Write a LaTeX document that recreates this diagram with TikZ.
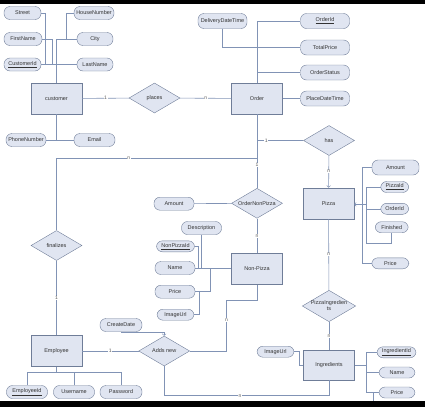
\documentclass[tikz,border=0pt]{standalone}
\usepackage{fontspec}
\setmainfont{Liberation Sans}
\usetikzlibrary{shapes.geometric}

\definecolor{boxfill}{HTML}{E0E5F1}
\definecolor{boxline}{HTML}{6F7D98}
\definecolor{linkcol}{HTML}{8193B5}
\definecolor{txtcol}{HTML}{333333}

\begin{document}
\begin{tikzpicture}[%
  x = 1pt, y = -1pt,
  font = \fontsize{5.5}{6}\selectfont, text = txtcol,
  entity/.style = {rectangle, draw = boxline, fill = boxfill, minimum width = 51pt, minimum height = 31pt, inner sep = 0pt},
  attr/.style = {rectangle, rounded corners = 6pt, draw = boxline, fill = boxfill, minimum height = 13pt, inner sep = 0.5pt},
  rel/.style = {diamond, aspect = 1.7, draw = boxline, fill = boxfill, minimum width = 51pt, minimum height = 30pt, inner sep = 0pt},
  link/.style = {draw = linkcol, line width = 0.6pt},
  card/.style = {fill = white, inner sep = 0.5pt, font = \fontsize{5}{5}\selectfont, text = txtcol!80}]
  \useasboundingbox (0, 0) rectangle (425, 407);
  \fill[black] (0, 0) rectangle (425, 4);
  \fill[black] (0, 401) rectangle (425, 407);

  % customer
  \node[entity] (cust) at (56.5, 98.5) {customer};
  \node[attr, minimum width = 37pt] (street) at (22.5, 13) {Street};
  \node[attr, minimum width = 40pt] (housenr) at (94, 13) {HouseNumber};
  \node[attr, minimum width = 38pt] (firstname) at (23, 39) {FirstName};
  \node[attr, minimum width = 36pt] (city) at (95, 39) {City};
  \node[attr, minimum width = 37pt] (custid) at (22.5, 64.5) {\underline{CustomerId}};
  \node[attr, minimum width = 36pt] (lastname) at (95, 64.5) {LastName};
  \node[attr, minimum width = 40pt] (phone) at (26, 140) {PhoneNumber};
  \node[attr, minimum width = 41pt] (email) at (94.5, 140) {Email};

  % order
  \node[entity] (order) at (257, 98.5) {Order};
  \node[attr, minimum width = 49pt, minimum height = 15pt] (delivery) at (222.5, 21) {DeliveryDateTime};
  \node[attr, minimum width = 49pt, minimum height = 15pt] (orderid) at (325, 21) {\underline{OrderId}};
  \node[attr, minimum width = 49pt, minimum height = 15pt] (total) at (325, 47.5) {TotalPrice};
  \node[attr, minimum width = 49pt, minimum height = 15pt] (status) at (325, 72.5) {OrderStatus};
  \node[attr, minimum width = 49pt, minimum height = 15pt] (placed) at (325, 98.5) {PlaceDateTime};

  % relations
  \node[rel] (places) at (154.5, 98) {places};
  \node[rel] (has) at (329, 140.5) {has};
  \node[rel] (finalizes) at (56.5, 245.5) {finalizes};
  \node[rel] (onp) at (257, 203.3) {OrderNonPizza};
  \node[rel, align = center] (pizzaing) at (329, 306) {PizzaIngredien\\ts};
  \node[rel] (addsnew) at (164.2, 351) {Adds new};

  % pizza
  \node[entity] (pizza) at (328.5, 203.3) {Pizza};
  \node[attr, minimum width = 47pt, minimum height = 15pt] (pamount) at (395.5, 167.5) {Amount};
  \node[attr, minimum width = 28pt, minimum height = 11pt] (pizzaid) at (394.7, 187) {\underline{PizzaId}};
  \node[attr, minimum width = 28pt, minimum height = 11pt] (porderid) at (394.7, 208.8) {OrderId};
  \node[attr, minimum width = 33pt, minimum height = 11pt] (finished) at (391.7, 227.2) {Finished};
  \node[attr, minimum width = 37pt, minimum height = 11pt] (pprice) at (390.3, 263.3) {Price};

  % non-pizza
  \node[entity] (nonpizza) at (257, 269) {Non-Pizza};
  \node[attr, minimum width = 40pt] (oamount) at (174, 203.7) {Amount};
  \node[attr, minimum width = 40pt] (descr) at (201.5, 228) {Description};
  \node[attr, minimum width = 38pt, minimum height = 11pt] (npid) at (175.5, 246.3) {\underline{NonPizzaId}};
  \node[attr, minimum width = 40pt] (npname) at (175, 268) {Name};
  \node[attr, minimum width = 40pt] (npprice) at (175, 291.7) {Price};
  \node[attr, minimum width = 37pt, minimum height = 11pt] (npimage) at (175.5, 314.7) {ImageUrl};

  % ingredients
  \node[entity, minimum height = 30pt] (ingr) at (329, 365) {Ingredients};
  \node[attr, minimum width = 37pt, minimum height = 11pt] (ingimage) at (275.5, 351.7) {ImageUrl};
  \node[attr, minimum width = 39pt, minimum height = 11pt] (ingid) at (396.5, 352.3) {\underline{IngredientId}};
  \node[attr, minimum width = 36pt, minimum height = 11pt] (ingname) at (397, 372.5) {Name};
  \node[attr, minimum width = 36pt, minimum height = 11pt] (ingprice) at (397, 392.5) {Price};

  % employee
  \node[entity] (employee) at (56.5, 351) {Employee};
  \node[attr, minimum width = 42pt] (created) at (121, 325) {CreateDate};
  \node[attr, minimum width = 41pt] (empid) at (27, 392) {\underline{EmployeeId}};
  \node[attr, minimum width = 41pt] (username) at (74, 392) {Username};
  \node[attr, minimum width = 42pt] (password) at (121, 392) {Password};

  \coordinate (ordbus) at (257, 158.3);
  \coordinate (npbend) at (226.5, 300.7);
  \coordinate (ingbend) at (329, 395.7);
  \coordinate (pjoin) at (366, 204.3);
  \coordinate (pin) at (366, 243.3);
  \coordinate (pout) at (362.3, 204.3);
  \coordinate (ibus) at (366.7, 365);
  \coordinate (iend) at (373.3, 401);
  \coordinate (ebus) at (56.5, 372.7);

  % customer attributes
  \draw[link] (street.east) -- ++(4.3, 0) |- (custid.east);
  \draw[link] (firstname.east) -- ++(10, 0) |- (custid.east);
  \draw[link] (custid.east) -- (lastname.west);
  \draw[link] (housenr.west) -- ++(-8, 0) |- (city.west);
  \draw[link] (cust.north) |- (city.west);
  \draw[link] (cust.south) |- (phone.east);
  \draw[link] (phone.east) -- (email.west);

  % order attributes
  \draw[link] (order.north) |- (orderid.west);
  \draw[link] (delivery.south) |- (total.west);
  \draw[link] (order.north) |- (status.west);
  \draw[link] (order.east) -- (placed.west);

  % relations
  \draw[link] (cust) -- node[card] {1} (places);
  \draw[link] (places) -- node[card] {n} (order);
  \draw[link] (order.south) |- node[card, pos = 0.6] {1} (has.west);
  \draw[link, ->] (has) -- node[card] {n} (pizza);
  \draw[link] (order.south) -- node[card, pos = 0.69] {1} (onp.north);
  \draw[link] (finalizes.north) |- node[card, pos = 0.68] {n} (ordbus);
  \draw[link] (employee) -- node[card] {1} (finalizes);
  \draw[link] (onp) -- (oamount);
  \draw[link] (onp) -- node[card] {n} (nonpizza);
  \draw[link] (pizza) -- node[card] {n} (pizzaing);
  \draw[link] (pizzaing) -- node[card] {n} (ingr);
  \draw[link] (employee) -- node[card] {1} (addsnew);
  \draw[link] (addsnew.east) -| node[card, pos = 0.81] {n} (npbend) -| (nonpizza.south);
  \draw[link] (addsnew.south) |- node[card, pos = 0.73] {n} (ingbend) -- (ingr.south);
  \draw[link, ->] (created.south) -- ++(0, 1) -| (addsnew.north);

  % pizza attributes
  \draw[link, ->] (pjoin) -- (pjoin -| pizza.east);
  \draw[link] (pamount.west) -| (pout) |- (pprice.west);
  \draw[link] (pizzaid.west) -| (pin) -| (finished.south);
  \draw[link] (porderid.west) -- (porderid.west -| pin);

  % non-pizza attributes
  \draw[link] (npname.east) -- (npname.east -| nonpizza.west);
  \draw[link] (descr.south) -- (descr.south |- npname.east);
  \draw[link] (npid.east) -- ++(4, 0) |- (npname.east);
  \draw[link] (npprice.east) -- ++(15, 0) |- (npname.east);
  \draw[link] (npimage.east) -- ++(5, 0) |- (npprice.east);

  % ingredients attributes
  \draw[link] (ingimage.east) -- ++(5, 0) |- (ingr.west);
  \draw[link] (ingr.east) -- (ibus);
  \draw[link] (ingid.west) -| (ibus) |- (ingprice.west);
  \draw[link] (ingname.west) -- (ingname.west -| ibus);
  \draw[link] (ingprice.west -| iend) -- (iend);

  % employee attributes
  \draw[link] (employee.south) -- (ebus);
  \draw[link] (empid.north) |- (ebus) -| (password.north);
  \draw[link] (username.north) -- (username.north |- ebus);
\end{tikzpicture}
\end{document}
